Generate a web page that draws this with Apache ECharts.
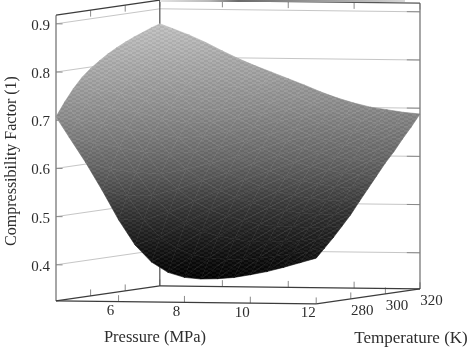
<!DOCTYPE html>
<html lang="en">
<head>
    <meta charset="UTF-8"/>
    <title>Compressibility factor</title>
    <script src="https://cdn.jsdelivr.net/npm/echarts@6/dist/echarts.min.js"></script>
    <style>html,body{margin:0;padding:0;background:#fff}</style>
</head>
<body>
<div id="main" style="width:474px;height:353px"></div>
<script type="text/javascript">
// surface values: one list per pressure, one entry per temperature
var pressures = [4.1, 4.5, 5, 5.5, 6, 6.5, 7, 7.5, 8, 8.5, 9, 9.5, 10, 10.5, 11, 11.5, 12];
var temperatures = [260, 265, 270, 275, 280, 285, 290, 295, 300, 305, 310, 315, 320];
var factor = [
    [.707, .735, .760, .781, .797, .810, .822, .832, .841, .849, .856, .863, .869],
    [.665, .699, .731, .757, .780, .797, .811, .823, .833, .841, .848, .854, .859],
    [.613, .651, .688, .719, .746, .767, .783, .798, .811, .821, .829, .838, .846],
    [.556, .598, .640, .675, .707, .731, .751, .770, .785, .798, .809, .821, .831],
    [.495, .542, .588, .628, .663, .692, .715, .737, .756, .772, .786, .800, .814],
    [.443, .492, .541, .583, .621, .653, .680, .705, .727, .747, .764, .782, .798],
    [.408, .457, .506, .551, .590, .624, .653, .681, .705, .727, .747, .766, .784],
    [.387, .435, .484, .527, .567, .601, .631, .661, .687, .709, .731, .752, .771],
    [.377, .421, .467, .509, .547, .581, .612, .642, .669, .692, .715, .738, .758],
    [.374, .415, .458, .497, .533, .567, .597, .627, .654, .678, .701, .725, .745],
    [.375, .413, .452, .488, .522, .554, .583, .613, .640, .663, .687, .710, .731],
    [.378, .412, .447, .480, .512, .543, .571, .599, .626, .649, .673, .696, .719],
    [.384, .416, .447, .477, .507, .536, .563, .591, .617, .639, .664, .686, .709],
    [.391, .420, .448, .476, .502, .530, .557, .583, .608, .631, .655, .677, .701],
    [.400, .425, .450, .475, .500, .527, .552, .578, .603, .625, .649, .671, .696],
    [.410, .432, .454, .477, .500, .526, .550, .575, .600, .621, .646, .667, .691],
    [.420, .439, .458, .479, .500, .525, .549, .573, .597, .618, .642, .664, .688]
];
var pressureTicks = [6, 8, 10, 12];
var temperatureTicks = [280, 300, 320];
var factorTicks = [0.4, 0.5, 0.6, 0.7, 0.8, 0.9];

var pMin = 4.1, pMax = 12, tMin = 260, tMax = 320, zMin = 0.325, zMax = 0.918;
var SERIF = '"Liberation Serif", "DejaVu Serif", serif';

// oblique view: 3d point -> the two plain value axes of the grid
function project(p, t, z) {
    return [
        (p - pMin) + (t - tMin) * 0.05253,
        z + (t - tMin) * 0.000519 - (p - pMin) * 0.000788
    ];
}

// gray colormap, stops
var mapZ = [0.37, 0.42, 0.50, 0.60, 0.70, 0.86];
var mapGray = [0, 15, 48, 100, 139, 190];
function grayOf(z) {
    for (var i = 1; i < mapZ.length; i++) {
        if (z <= mapZ[i]) {
            return Math.max(0, mapGray[i - 1] + (mapGray[i] - mapGray[i - 1]) * (z - mapZ[i - 1]) / (mapZ[i] - mapZ[i - 1]));
        }
    }
    return 190 + (z - 0.86) * 320;
}
function css(g) {
    var v = Math.round(g);
    return 'rgb(' + v + ',' + v + ',' + v + ')';
}

// one triangle with a linear gradient fitted through its three corners
function shadedTriangle(a, b, c) {
    var det = (b.x - a.x) * (c.y - a.y) - (c.x - a.x) * (b.y - a.y);
    var gx = 0, gy = 0;
    if (Math.abs(det) > 1e-6) {
        gx = ((b.g - a.g) * (c.y - a.y) - (c.g - a.g) * (b.y - a.y)) / det;
        gy = ((c.g - a.g) * (b.x - a.x) - (b.g - a.g) * (c.x - a.x)) / det;
    }
    var lo = a, hi = a;
    [b, c].forEach(function (v) {
        if (v.g < lo.g) lo = v;
        if (v.g > hi.g) hi = v;
    });
    var len2 = gx * gx + gy * gy, paint;
    if (len2 < 1e-9 || hi.g - lo.g < 0.01) {
        paint = css((a.g + b.g + c.g) / 3);
    } else {
        var s = (hi.g - lo.g) / len2;
        paint = new echarts.graphic.LinearGradient(lo.x, lo.y, lo.x + gx * s, lo.y + gy * s, [
            {offset: 0, color: css(lo.g)},
            {offset: 1, color: css(hi.g)}
        ], true);
    }
    return {
        type: 'polygon',
        shape: {points: [[a.x, a.y], [b.x, b.y], [c.x, c.y]]},
        style: {fill: paint, stroke: paint, lineWidth: 0.6}
    };
}

var cells = [];
for (var it = temperatures.length - 2; it >= 0; it--) {
    for (var ip = 0; ip < pressures.length - 1; ip++) {
        cells.push([ip, it]);
    }
}

function renderCell(params, api) {
    var ip = api.value(0), it = api.value(1);
    function corner(i, j) {
        var z = factor[i][j];
        var pt = api.coord(project(pressures[i], temperatures[j], z));
        return {x: pt[0], y: pt[1], g: grayOf(z)};
    }
    var a = corner(ip, it), b = corner(ip + 1, it), c = corner(ip + 1, it + 1), d = corner(ip, it + 1);
    return {type: 'group', children: [shadedTriangle(a, b, c), shadedTriangle(a, c, d)]};
}

// mesh texture: small repeating tile laid over the surface outline
function meshTile() {
    var tile = document.createElement('canvas');
    tile.width = 8;
    tile.height = 4;
    var ctx = tile.getContext('2d');
    ctx.fillStyle = 'rgba(255,255,255,0.05)';
    ctx.fillRect(0, 0, 4, 2);
    ctx.fillRect(4, 2, 4, 2);
    ctx.fillStyle = 'rgba(0,0,0,0.05)';
    ctx.fillRect(4, 0, 4, 2);
    ctx.fillRect(0, 2, 4, 2);
    return tile;
}

function renderOutline(params, api) {
    var pts = [], last = temperatures.length - 1, i, j;
    function add(i, j) {
        pts.push(api.coord(project(pressures[i], temperatures[j], factor[i][j])));
    }
    for (i = 0; i < pressures.length; i++) add(i, 0);
    for (j = 1; j <= last; j++) add(pressures.length - 1, j);
    for (i = pressures.length - 2; i >= 0; i--) add(i, last);
    for (j = last - 1; j > 0; j--) add(0, j);
    return {
        type: 'polygon',
        shape: {points: pts},
        style: {fill: {image: meshTile(), repeat: 'repeat'}}
    };
}

// box edges, wall grid lines and ticks, all from the axis limits and tick lists
var frame = [];
function seg(from, to, color, width) {
    frame.push({from: from, to: to, color: color, width: width});
}
var EDGE = '#3c3c3c', POST = '#808080', GRID = '#c6c6c6', TICK = '#8a8a8a', TL = 0.0135;
factorTicks.forEach(function (z) {
    seg([pMin, tMin, z], [pMin, tMax, z], GRID, 1);
    seg([pMin, tMax, z], [pMax, tMax, z], GRID, 1);
    seg([pMin, tMin, z], [pMin + 0.2, tMin, z], TICK, 1);
    seg([pMax, tMax, z], [pMax - 0.4, tMax, z], TICK, 1);
});
pressureTicks.forEach(function (p) {
    seg([p, tMin, zMin], [p, tMin, zMin + TL], TICK, 1);
    seg([p, tMax, zMin], [p, tMax, zMin + TL], TICK, 1);
    seg([p, tMax, zMax], [p, tMax, zMax - TL], TICK, 1);
});
temperatureTicks.forEach(function (t) {
    seg([pMax, t, zMin], [pMax, t, zMin + TL], TICK, 1);
    seg([pMin, t, zMin], [pMin, t, zMin + TL], TICK, 1);
    seg([pMin, t, zMax], [pMin, t, zMax - TL], TICK, 1);
});
seg([pMin, tMin, zMin], [pMin, tMin, zMax], POST, 1.4);
seg([pMin, tMax, zMin], [pMin, tMax, zMax], '#5c5c5c', 1.3);
seg([pMax, tMax, zMin], [pMax, tMax, zMax], POST, 1.4);
seg([pMin, tMin, zMin], [pMax, tMin, zMin], EDGE, 1.2);
seg([pMax, tMin, zMin], [pMax, tMax, zMin], EDGE, 1.2);
seg([pMin, tMin, zMin], [pMin, tMax, zMin], EDGE, 1.2);
seg([pMin, tMax, zMin], [pMax, tMax, zMin], EDGE, 1.2);
seg([pMin, tMin, zMax], [pMin, tMax, zMax], EDGE, 1.3);
seg([pMin, tMax, zMax], [pMax, tMax, zMax], '#555', 1.2);

// tick labels: [text, x, y, z, dx, dy]
var labels = [];
factorTicks.forEach(function (z) {
    labels.push([z.toFixed(1), pMin, tMin, z, -15.5, 2]);
});
pressureTicks.forEach(function (p) {
    labels.push([String(p), p, tMin, zMin, -8, 9.5]);
});
temperatureTicks.forEach(function (t) {
    labels.push([String(t), pMax, t, zMin, 11.5, 12]);
});

var myChart = echarts.init(document.getElementById('main'));

option = {
    animation: false,
    backgroundColor: '#fff',
    grid: {left: 56, top: 0, width: 364, height: 313},
    xAxis: {type: 'value', show: false, min: 0, max: 11.052},
    yAxis: {type: 'value', show: false, min: 0.3, max: 0.9494},
    graphic: [
        {
            // grey smear along the cropped top edge of the original
            type: 'rect', x: 160, y: 0, z: 10,
            shape: {width: 245, height: 2},
            style: {fill: new echarts.graphic.LinearGradient(0, 0, 1, 0, [
                {offset: 0, color: '#e4e4e4'},
                {offset: 0.2, color: '#b8b8b8'},
                {offset: 0.32, color: '#6a6a6a'},
                {offset: 0.55, color: '#8c8c8c'},
                {offset: 0.75, color: '#a8a8a8'},
                {offset: 1, color: '#d8d8d8'}
            ])}
        },
        {type: 'text', x: 155, y: 338, style: {text: 'Pressure (MPa)', font: '16.5px ' + SERIF, fill: '#2e2e2e', textAlign: 'center', textVerticalAlign: 'middle'}},
        {type: 'text', x: 411, y: 339, style: {text: 'Temperature (K)', font: '17px ' + SERIF, fill: '#2e2e2e', textAlign: 'center', textVerticalAlign: 'middle'}},
        {type: 'text', x: 12, y: 161, rotation: Math.PI / 2, style: {text: 'Compressibility Factor (1)', font: '16px ' + SERIF, fill: '#2e2e2e', textAlign: 'center', textVerticalAlign: 'middle'}}
    ],
    series: [
        {
            type: 'custom',
            coordinateSystem: 'cartesian2d',
            silent: true,
            z: 1,
            data: frame.map(function (f, i) { return [i]; }),
            renderItem: function (params, api) {
                var f = frame[api.value(0)];
                var a = api.coord(project(f.from[0], f.from[1], f.from[2]));
                var b = api.coord(project(f.to[0], f.to[1], f.to[2]));
                return {
                    type: 'line',
                    shape: {x1: a[0], y1: a[1], x2: b[0], y2: b[1]},
                    style: {stroke: f.color, lineWidth: f.width}
                };
            }
        },
        {
            type: 'custom',
            coordinateSystem: 'cartesian2d',
            silent: true,
            z: 2,
            data: cells,
            renderItem: renderCell
        },
        {
            type: 'custom',
            coordinateSystem: 'cartesian2d',
            silent: true,
            z: 3,
            data: [[0]],
            renderItem: renderOutline
        },
        {
            type: 'custom',
            coordinateSystem: 'cartesian2d',
            silent: true,
            z: 4,
            data: labels.map(function (l, i) { return [i]; }),
            renderItem: function (params, api) {
                var l = labels[api.value(0)];
                var pt = api.coord(project(l[1], l[2], l[3]));
                return {
                    type: 'text',
                    x: pt[0] + l[4],
                    y: pt[1] + l[5],
                    style: {text: l[0], font: '15px ' + SERIF, fill: '#2e2e2e', textAlign: 'center', textVerticalAlign: 'middle'}
                };
            }
        }
    ]
};

myChart.setOption(option);
</script>
</body>
</html>
